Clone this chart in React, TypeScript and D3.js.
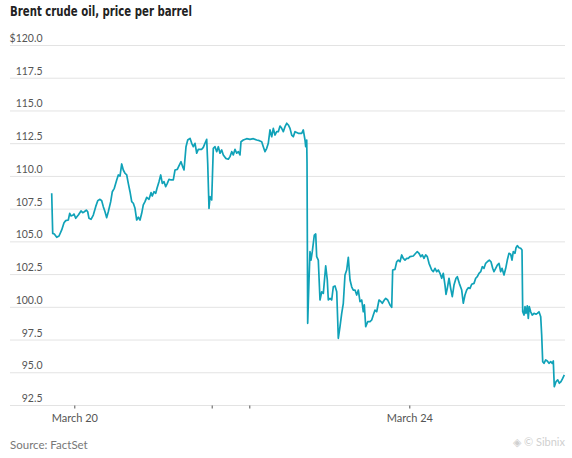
import React, { useEffect, useRef } from "react";
import * as d3 from "d3";

// hours relative to March 20, 00:00
const hours = [-6.48,-6.19,-5.73,-5.04,-4.38,-3.61,-2.95,-2.46,-1.72,-1.32,-0.95,-0.46,-0.09,0.40,1.15,1.92,2.41,2.87,3.44,3.84,4.21,4.79,5.44,6.13,6.71,7.36,7.85,8.31,8.80,9.28,9.74,10.43,10.89,11.46,12.15,12.61,13.10,13.58,14.04,14.53,15.02,15.47,15.96,16.45,16.91,17.39,17.88,18.34,18.83,19.31,19.77,20.26,20.75,21.41,21.98,22.35,22.84,23.33,23.70,24.27,24.76,25.22,25.71,26.19,26.65,27.14,27.71,28.37,28.86,29.52,30.09,30.58,31.06,31.44,32.01,32.50,33.16,33.64,34.10,34.59,35.08,35.53,36.51,36.97,37.45,37.94,38.23,38.60,38.89,39.37,39.83,40.32,40.81,41.27,41.75,42.24,42.70,43.39,44.13,44.62,45.11,45.56,46.05,46.54,47.00,47.48,47.77,48.43,49.40,50.35,51.30,52.27,53.02,53.70,54.16,54.65,55.14,55.59,56.08,56.57,57.03,57.51,58.00,58.46,58.95,59.43,59.89,60.38,60.87,61.33,61.81,62.30,62.76,63.25,64.19,65.17,65.62,66.11,66.31,66.60,66.69,66.88,67.26,67.54,67.83,68.20,68.78,69.18,69.46,69.92,70.41,70.90,71.36,72.04,72.50,72.79,73.28,73.76,74.22,74.71,75.20,75.48,75.65,76.14,76.63,77.09,77.57,78.06,78.52,79.01,79.49,79.95,80.44,80.93,81.39,81.87,82.36,82.82,83.11,83.51,84.08,84.74,85.23,85.69,86.17,86.66,87.32,87.89,88.26,88.84,89.24,89.81,90.47,90.96,91.24,91.90,92.39,92.85,93.34,93.82,94.28,94.77,95.26,95.71,96.20,97.15,97.83,98.29,98.78,99.27,99.73,100.21,100.70,101.16,101.65,102.42,102.88,103.37,103.85,104.31,104.80,105.29,105.74,106.23,106.52,106.89,107.38,107.86,108.32,108.81,109.38,109.76,110.33,111.02,111.47,111.96,112.45,112.91,113.40,113.88,114.54,115.03,115.49,115.97,116.46,116.92,117.41,117.89,118.35,118.93,119.41,119.90,120.27,120.76,121.22,121.71,122.19,122.57,123.14,123.63,124.09,124.57,125.06,125.43,125.80,126.29,126.58,126.95,127.44,127.93,128.30,128.50,128.87,129.16,129.44,129.82,130.10,130.39,130.79,131.25,131.74,132.31,132.68,133.17,133.66,133.94,134.23,134.60,135.09,135.55,136.03,136.52,136.98,137.27,137.55,138.04,138.53,138.99,139.47,139.96,140.42];

const prices = [108.71,105.65,105.60,105.35,105.45,105.91,106.46,106.62,106.67,107.18,106.98,107.03,107.13,106.80,107.05,107.36,107.23,107.30,107.43,107.30,106.80,106.72,107.05,107.69,108.14,108.25,108.14,107.69,107.30,106.85,107.30,108.07,108.83,109.09,109.73,110.11,110.03,110.95,110.49,110.24,110.11,109.47,108.83,108.07,107.95,107.56,106.67,106.88,106.67,107.18,107.82,108.07,108.40,108.25,108.76,108.50,108.83,108.71,109.09,109.60,110.11,109.47,109.60,109.21,109.47,109.78,109.73,
109.73,110.49,110.54,110.87,111.12,110.74,110.49,112.27,112.78,112.91,112.53,112.27,112.53,111.77,112.07,112.07,112.22,112.53,112.83,111.00,107.56,108.45,108.20,112.15,112.27,111.89,112.27,111.77,112.02,111.64,111.38,111.31,111.51,111.89,111.64,112.07,111.77,111.89,111.64,112.65,112.78,112.88,112.83,112.88,112.78,112.73,112.65,112.27,111.89,112.15,112.53,113.55,113.03,113.67,113.16,113.42,113.42,113.85,113.67,113.42,113.80,114.06,113.93,113.67,113.16,113.03,113.42,
113.29,113.29,113.55,112.78,112.27,112.78,111.00,98.78,102.09,104.25,103.61,104.25,105.52,105.60,103.87,103.61,100.56,101.19,101.07,103.16,102.09,100.56,100.69,100.56,101.57,101.63,101.19,99.03,97.63,98.52,99.54,100.31,102.47,102.85,103.82,102.09,101.57,101.32,101.32,100.94,101.32,100.43,100.56,99.66,100.18,98.52,98.90,98.90,99.03,99.41,99.79,99.66,100.56,100.43,100.31,100.56,100.69,100.56,100.18,100.00,102.85,102.90,103.48,103.61,103.48,104.00,103.74,103.61,103.74,103.74,103.87,103.92,104.13,104.25,104.13,103.87,104.00,103.74,104.00,103.87,103.36,
102.85,102.72,102.98,102.72,102.85,102.60,102.22,102.60,101.70,100.99,101.45,102.22,101.45,100.81,101.70,102.22,102.34,101.83,101.32,100.31,100.94,101.32,101.50,101.45,101.76,101.83,102.22,102.34,102.60,102.72,103.10,102.98,103.36,103.48,103.61,103.48,102.98,102.72,102.98,103.23,103.36,102.72,102.98,102.47,102.98,103.61,104.13,104.05,103.61,104.25,104.13,104.55,104.71,104.55,104.51,104.38,99.66,99.41,100.05,99.54,100.12,99.16,100.05,99.66,99.41,99.54,99.47,99.54,99.66,99.28,97.88,95.85,95.72,95.98,95.90,95.72,95.85,95.72,95.90,93.94,94.32,94.45,94.20,94.32,94.58,94.83];

const yTicks = [92.5, 95, 97.5, 100, 102.5, 105, 107.5, 110, 112.5, 115, 117.5, 120];
const xTickHours = [0, 39.37, 50.15, 96];
const xTickLabels = ["March 20", "", "", "March 24"];

const W = 572, H = 458;
const FONT = "Lato, 'Noto Sans', sans-serif";

export default function App() {
  const axisRef = useRef<SVGGElement>(null);
  const n = Math.min(hours.length, prices.length);
  const data = d3.range(n).map((i) => ({ h: hours[i], p: prices[i] }));

  const x = d3.scaleLinear().domain(d3.extent(hours) as [number, number]).range([51.7, 564.3]);
  const y = d3.scaleLinear().domain([92.5, 120]).range([405.5, 45.5]);

  const line = d3.line<{ h: number; p: number }>().x((d) => x(d.h)).y((d) => y(d.p));

  useEffect(() => {
    if (!axisRef.current) return;
    const g = d3.select(axisRef.current);
    g.selectAll("*").remove();
    const axis = d3
      .axisBottom(x)
      .tickValues(xTickHours)
      .tickSize(3)
      .tickPadding(6)
      .tickFormat((_d, i) => xTickLabels[i]);
    g.call(axis as any);
    g.select(".domain").remove();
    g.selectAll(".tick line").attr("stroke", "#555");
    g.selectAll(".tick text")
      .attr("fill", "#555")
      .style("font-family", FONT)
      .style("font-size", "11px");
  });

  return (
    <svg width={W} height={H} style={{ position: "absolute", left: 0, top: 0, background: "#fff" }}>
      <text x={10} y={16} fontFamily="'Liberation Sans Narrow', 'DejaVu Sans Condensed', sans-serif" fontWeight="bold" fontSize={14.5} fill="#222" textLength={182} lengthAdjust="spacingAndGlyphs">
        Brent crude oil, price per barrel
      </text>
      {yTicks.map((v) => (
        <g key={v}>
          <line x1={10} x2={565} y1={y(v)} y2={y(v)} stroke="#e3e3e3" strokeWidth={1} />
          <text x={42.5} y={y(v) - 3.5} textAnchor="end" fontFamily={FONT} fontSize={10.5} fill="#555">
            {v === 120 ? "$" + v.toFixed(1) : v.toFixed(1)}
          </text>
        </g>
      ))}
      <path d={line(data) || ""} fill="none" stroke="#10a2b8" strokeWidth={1.7} strokeLinejoin="round" />
      <g ref={axisRef} transform={`translate(0,${y(92.5)})`} />
      <text x={10} y={449} fontFamily={FONT} fontSize={11.5} fill="#777">
        Source: FactSet
      </text>
      <text x={565} y={446} textAnchor="end" fontFamily={FONT} fontSize={11} fill="#d0d0d0">
        ◈ © Sibnix
      </text>
    </svg>
  );
}
